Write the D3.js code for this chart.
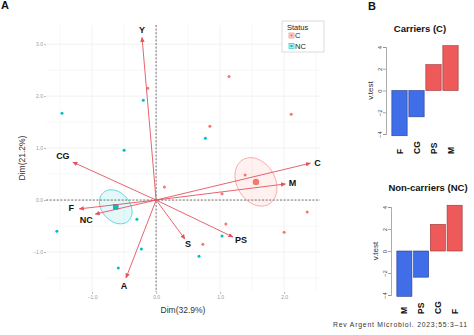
<!DOCTYPE html>
<html>
<head>
<meta charset="utf-8">
<script src="https://cdn.jsdelivr.net/npm/d3@7"></script>
<style>
body{margin:0;background:#fff}
text{font-family:"Liberation Sans",Arial,sans-serif}
</style>
</head>
<body>
<div id="chart"></div>
<script>
// individual scores on Dim1/Dim2, split by status
let carrierPts=[[-0.13,2.15],[1.14,2.38],[0.84,1.42],[2.11,1.65],[1.39,0.48],[0.13,0.25],[1.03,0.12],[2.36,-0.23],[1.09,-0.46],[2.0,-0.62],[0.73,-0.85]]
let nonCarrierPts=[[-1.47,1.67],[-0.5,0.96],[-0.2,1.92],[0.77,1.19],[-0.3,-0.37],[-1.55,-0.6],[-0.23,-0.94],[-0.59,-1.31],[1.03,-0.69],[0.67,-1.08]]
let groupNames=["C","NC"]
let groupColors=["#F8766D","#00BFC4"]
let groupCentroids=[[1.56,0.35],[-0.63,-0.13]]
// conjugate semi-axes (data units) of the confidence ellipses
let ellipseAxes=[[[0.20,-0.43],[-0.26,-0.18]],[[0.19,-0.28],[-0.17,-0.17]]]
// variable arrows
let varNames=["Y","CG","F","NC","A","S","PS","M","C"]
let varCoords=[[-0.22,3.13],[-1.30,0.73],[-1.20,-0.17],[-0.95,-0.27],[-0.47,-1.5],[0.45,-0.75],[1.2,-0.71],[2.02,0.31],[2.41,0.71]]
let xTicks=[-1,0,1,2]
let yTicks=[-1,0,1,2,3]
let dimLabels=["Dim(32.9%)","Dim(21.2%)"]

// v.test per modality
let carrierCats=["F","CG","PS","M"]
let carrierVtest=[-4.16,-2.42,2.38,4.12]
let nonCarrierCats=["M","PS","CG","F"]
let nonCarrierVtest=[-4.12,-2.38,2.42,4.16]
let vtestTicks=[-4,-2,0,2,4]

const width=474,height=335
const svg=d3.select("#chart").append("svg").attr("width",width).attr("height",height)
svg.append("rect").attr("width",width).attr("height",height).attr("fill","#fff")

// ---------- panel A : biplot ----------
const pad={l:46,r:320,t:25,b:292}
const x=d3.scaleLinear().domain([-1.72,2.56]).range([pad.l,pad.r])
const y=d3.scaleLinear().domain([-1.77,3.37]).range([pad.b,pad.t])

const grid=svg.append("g")
let minorX=d3.range(-1.5,2.6,0.5),minorY=d3.range(-1.5,3.4,0.5)
grid.selectAll(".vx").data(minorX).enter().append("line")
  .attr("x1",d=>x(d)).attr("x2",d=>x(d)).attr("y1",pad.t).attr("y2",pad.b)
  .attr("stroke","#ececec").attr("stroke-width",d=>Number.isInteger(d)?0.7:0.4)
grid.selectAll(".hy").data(minorY).enter().append("line")
  .attr("y1",d=>y(d)).attr("y2",d=>y(d)).attr("x1",pad.l).attr("x2",pad.r)
  .attr("stroke","#ececec").attr("stroke-width",d=>Number.isInteger(d)?0.7:0.4)

const yAxis=svg.append("g").attr("transform","translate("+pad.l+",0)")
  .call(d3.axisLeft(y).tickValues(yTicks).tickSize(2).tickPadding(1).tickFormat(d3.format(".1f")))
const xAxis=svg.append("g").attr("transform","translate(0,"+pad.b+")")
  .call(d3.axisBottom(x).tickValues(xTicks).tickSize(2).tickPadding(1).tickFormat(d3.format(".1f")))
;[xAxis,yAxis].forEach(a=>{
  a.select(".domain").remove()
  a.selectAll("line").attr("stroke","#bbb")
  a.selectAll("text").attr("font-size",5).attr("fill","#999")
})

// zero lines
svg.append("line").attr("x1",x(0)).attr("x2",x(0)).attr("y1",pad.t).attr("y2",pad.b)
  .attr("stroke","#666").attr("stroke-width",0.9).attr("stroke-dasharray","2,1.6")
svg.append("line").attr("y1",y(0)).attr("y2",y(0)).attr("x1",pad.l).attr("x2",pad.r)
  .attr("stroke","#666").attr("stroke-width",0.9).attr("stroke-dasharray","2,1.6")

// confidence ellipses
const ellLine=d3.line().curve(d3.curveLinearClosed)
groupCentroids.forEach((c,i)=>{
  let u=ellipseAxes[i][0],v=ellipseAxes[i][1]
  let pts=d3.range(0,2*Math.PI,Math.PI/40).map(t=>[x(c[0]+u[0]*Math.cos(t)+v[0]*Math.sin(t)),y(c[1]+u[1]*Math.cos(t)+v[1]*Math.sin(t))])
  svg.append("path").attr("d",ellLine(pts)).attr("fill",groupColors[i]).attr("fill-opacity",0.1)
    .attr("stroke",groupColors[i]).attr("stroke-opacity",0.75).attr("stroke-width",0.8)
})

// points
svg.selectAll(".pc").data(carrierPts).enter().append("circle")
  .attr("cx",d=>x(d[0])).attr("cy",d=>y(d[1])).attr("r",1.5).attr("fill",groupColors[0])
svg.selectAll(".pn").data(nonCarrierPts).enter().append("circle")
  .attr("cx",d=>x(d[0])).attr("cy",d=>y(d[1])).attr("r",1.5).attr("fill",groupColors[1])
svg.append("circle").attr("cx",x(groupCentroids[0][0])).attr("cy",y(groupCentroids[0][1])).attr("r",3.2).attr("fill",groupColors[0])
svg.append("rect").attr("x",x(groupCentroids[1][0])-2.8).attr("y",y(groupCentroids[1][1])-2.8)
  .attr("width",5.6).attr("height",5.6).attr("fill",groupColors[1])

// arrows
const arrowCol="#e2535e"
svg.append("defs").append("marker").attr("id","head").attr("viewBox","0 0 10 10")
  .attr("refX",9).attr("refY",5).attr("markerWidth",5).attr("markerHeight",5)
  .attr("markerUnits","userSpaceOnUse").attr("orient","auto")
  .append("path").attr("d","M0,0.5 L10,5 L0,9.5 Z").attr("fill",arrowCol)
svg.selectAll(".arr").data(varCoords).enter().append("line")
  .attr("x1",x(0)).attr("y1",y(0)).attr("x2",d=>x(d[0])).attr("y2",d=>y(d[1]))
  .attr("stroke",arrowCol).attr("stroke-width",0.9).attr("marker-end","url(#head)")
// label nudges in px from the arrow tip
let nudge={Y:[0,-7],CG:[-10,-6],F:[-8,-1],NC:[-9,6],A:[-2,8],S:[3,5],PS:[8,3],M:[7,-1],C:[7,0]}
svg.selectAll(".vl").data(varNames).enter().append("text")
  .attr("x",(d,i)=>x(varCoords[i][0])+nudge[d][0]).attr("y",(d,i)=>y(varCoords[i][1])+nudge[d][1])
  .attr("text-anchor","middle").attr("dominant-baseline","central")
  .attr("font-size",9).attr("font-weight","bold").attr("fill","#111").text(d=>d)

// axis titles
svg.append("text").attr("x",(pad.l+pad.r)/2).attr("y",313).attr("text-anchor","middle")
  .attr("font-size",8.5).attr("fill","#333").text(dimLabels[0])
svg.append("text").attr("transform","translate(22,"+158+") rotate(-90)").attr("text-anchor","middle")
  .attr("dominant-baseline","central").attr("font-size",8.5).attr("fill","#333").text(dimLabels[1])

// legend
const lg=svg.append("g").attr("transform","translate(282,21)")
lg.append("rect").attr("width",42).attr("height",31).attr("fill","#fff").attr("stroke","#ccc").attr("stroke-width",0.7)
lg.append("text").attr("x",5).attr("y",8.5).attr("font-size",7.5).attr("fill","#222").text("Status")
groupNames.forEach((g,i)=>{
  let cy=14.5+i*10.5
  lg.append("rect").attr("x",7).attr("y",cy-2.5).attr("width",5).attr("height",5)
    .attr("fill",groupColors[i]).attr("fill-opacity",0.2).attr("stroke",groupColors[i]).attr("stroke-width",0.6)
  lg.append("circle").attr("cx",9.5).attr("cy",cy).attr("r",1.3).attr("fill",groupColors[i])
  lg.append("text").attr("x",13).attr("y",cy).attr("dominant-baseline","central")
    .attr("font-size",7.5).attr("fill","#222").text(g)
})

// ---------- panel B : v.test bars ----------
function vtestChart(cats,vals,title,axisX,xr,yr,titleX,titleY,labY){
  const bx=d3.scaleBand().domain(cats).range(xr).paddingInner(0.1).paddingOuter(0.05)
  const by=d3.scaleLinear().domain([-4,4]).range(yr)
  svg.append("text").attr("x",titleX).attr("y",titleY).attr("text-anchor","middle").attr("dominant-baseline","central")
    .attr("font-size",9.5).attr("font-weight","bold").attr("fill","#111").text(title)
  svg.selectAll(null).data(vals).enter().append("rect")
    .attr("x",(d,i)=>bx(cats[i])).attr("width",bx.bandwidth())
    .attr("y",d=>by(Math.max(0,d))).attr("height",d=>Math.abs(by(d)-by(0)))
    .attr("fill",d=>d<0?"#3f6ee8":"#ee5a5a").attr("stroke",d=>d<0?"#2a3f8f":"#9a3434").attr("stroke-width",0.6)
  const ax=svg.append("g").attr("transform","translate("+axisX+",0)")
    .call(d3.axisLeft(by).tickValues(vtestTicks).tickSize(3))
  ax.select(".domain").attr("stroke","#888").attr("stroke-width",0.7)
  ax.selectAll("line").attr("stroke","#888").attr("stroke-width",0.7)
  ax.selectAll("text").attr("x",0).attr("dy",0).attr("text-anchor","middle")
    .attr("transform","translate(-3.6,0) rotate(-90)").attr("font-size",6).attr("fill","#444")
  svg.append("text").attr("transform","translate("+(axisX-15.5)+","+by(0)+") rotate(-90)")
    .attr("text-anchor","middle").attr("dominant-baseline","central").attr("font-size",8).attr("fill","#333").text("v.test")
  svg.selectAll(null).data(cats).enter().append("text")
    .attr("transform",d=>"translate("+(bx(d)+bx.bandwidth()/2)+","+labY+") rotate(-90)")
    .attr("text-anchor","start").attr("dominant-baseline","central")
    .attr("font-size",8.5).attr("font-weight","bold").attr("fill","#111").text(d=>d)
}
vtestChart(carrierCats,carrierVtest,"Carriers (C)",386,[391,459],[134,47],420,28,154)
vtestChart(nonCarrierCats,nonCarrierVtest,"Non-carriers (NC)",391,[396,463],[295,207],428,187,314)

// panel letters and source line
svg.append("text").attr("x",1).attr("y",9).attr("font-size",11).attr("font-weight","bold").attr("fill","#111").text("A")
svg.append("text").attr("x",368).attr("y",10).attr("font-size",11).attr("font-weight","bold").attr("fill","#111").text("B")
svg.append("text").attr("x",333).attr("y",327).attr("font-family","Liberation Mono, monospace").attr("font-size",6.8)
  .attr("textLength",134).attr("fill","#333").text("Rev Argent Microbiol. 2023;55:3\u201311")
</script>
</body>
</html>
